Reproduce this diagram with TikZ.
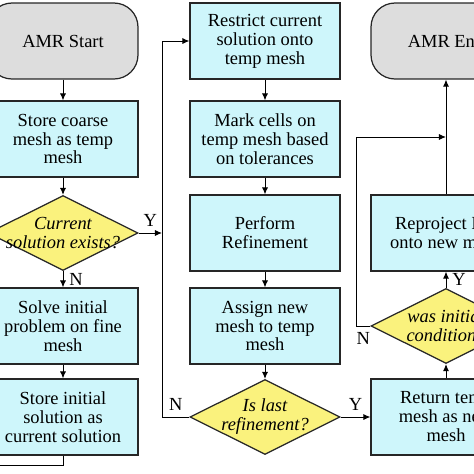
\documentclass[tikz,border=0pt]{standalone}
\usepackage{fontspec}
\setmainfont{Liberation Serif}
\usetikzlibrary{shapes.geometric,arrows.meta}
\definecolor{boxcyan}{RGB}{206,246,251}
\definecolor{dyellow}{RGB}{250,242,125}
\definecolor{termgrey}{RGB}{221,221,221}

\begin{document}
\begin{tikzpicture}[x=0.02cm, y=-0.02cm, font=\fontsize{10.5}{10.8}\selectfont,
process/.style={draw=black!85, line width=0.7pt, fill=boxcyan, minimum width=3cm, minimum height=1.52cm, align=center, inner sep=1pt},
term/.style={process, fill=termgrey, rounded corners=0.48cm},
decision/.style={draw=black!85, line width=0.7pt, fill=dyellow, diamond, minimum width=3cm, minimum height=1.5cm, inner sep=0pt},
dtext/.style={align=center, font=\fontsize{10.5}{10.8}\selectfont\itshape},
flow/.style={-{Latex[length=4pt,width=3.5pt]}, line width=0.55pt}]
\useasboundingbox (0,0) rectangle (474,474);
\clip (0,0) rectangle (474,474);

\node[term] (start) at (63,41) {AMR Start};
\node[process] (coarse) at (63,139) {Store coarse\\mesh as temp\\mesh};
\node[decision, label={[dtext]center:Current\\solution exists?}] (exists) at (63,233) {};
\node[process] (solve) at (63,326) {Solve initial\\problem on fine\\mesh};
\node[process] (storeinit) at (63,417) {Store initial\\solution as\\current solution};

\node[process] (restrict) at (265,41) {Restrict current\\solution onto\\temp mesh};
\node[process] (mark) at (265,139) {Mark cells on\\temp mesh based\\on tolerances};
\node[process] (refine) at (265,233) {Perform\\Refinement};
\node[process] (assign) at (265,326) {Assign new\\mesh to temp\\mesh};
\node[decision, label={[dtext]center:Is last\\refinement?}] (last) at (265,417) {};

\node[term] (finish) at (446,41) {AMR End};
\node[process] (reproject) at (446,233) {Reproject ICs\\onto new mesh};
\node[decision, label={[dtext]center:was initial\\condition?}] (given) at (446,326) {};
\node[process] (return) at (446,417) {Return temp\\mesh as new\\mesh};

\coordinate (rt) at (162,41);
\coordinate (lt) at (356,137);
\coordinate (back) at (-20,465);

\draw[flow] (start) -- (coarse);
\draw[flow] (coarse) -- (exists);
\draw[flow] (exists) -- node[right] (n1) {N} (solve);
\draw[flow] (solve) -- (storeinit);
\draw[line width=0.55pt] (storeinit.south) |- (back);
\draw[flow] (exists.east) -- node[above] (y1) {Y} (exists.east -| rt);
\draw[flow] (last.west) -- node[above] (n2) {N} (last.west -| rt) -- (rt) -- (restrict.west);

\draw[flow] (restrict) -- (mark);
\draw[flow] (mark) -- (refine);
\draw[flow] (refine) -- (assign);
\draw[flow] (assign) -- (last);
\draw[flow] (last.east) -- node[above] (y2) {Y} (return.west);

\draw[flow] (return) -- (given);
\draw[flow] (given) -- node[right] (y3) {Y} (reproject);
\draw[flow] (reproject) -- (finish);
\draw[flow] (given.west) -- node[below] (n3) {N} (given.west -| lt) -- (lt) -- (lt -| finish.south);
\end{tikzpicture}
\end{document}
